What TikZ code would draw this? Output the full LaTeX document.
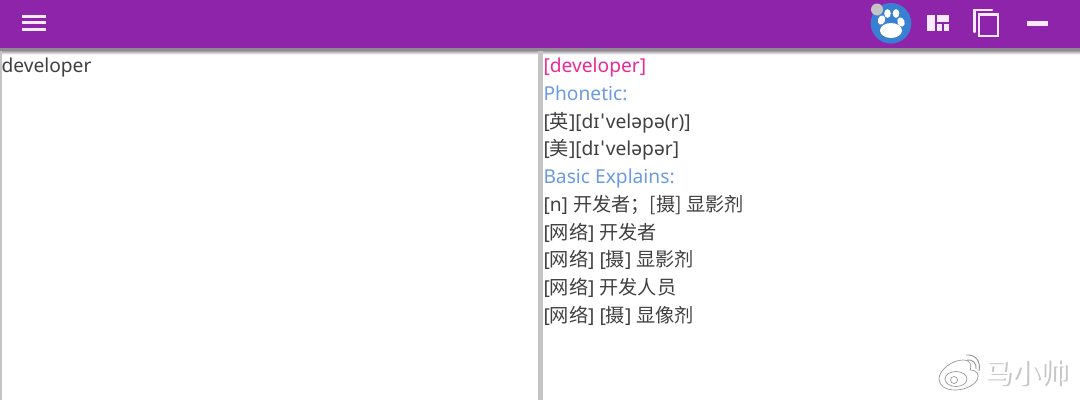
\documentclass[tikz,border=0pt]{standalone}
\usepackage{fontspec}
\setmainfont{Noto Sans}
\newfontfamily\cjkf{Noto Sans CJK SC}
\newcommand{\cj}[1]{{\cjkf #1}}
\newcommand{\strs}{\kern1.2pt ˈ\kern1.2pt}
\definecolor{barpurple}{HTML}{8E24AA}
\definecolor{barshadow}{HTML}{8F8A92}
\definecolor{splitgray}{HTML}{C4C4C4}
\definecolor{inktext}{HTML}{404040}
\definecolor{pinkword}{HTML}{EA2A96}
\definecolor{bluehead}{HTML}{6B9BE0}
\definecolor{badgeblue}{HTML}{3A80D2}
\definecolor{iconpink}{HTML}{FBE9FF}
\tikzset{
  line/.style={anchor=base west,inner sep=0pt,outer sep=0pt,text=inktext,font=\fontsize{14.4}{14.4}\selectfont},
  pinkline/.style={line,text=pinkword},
  blueline/.style={line,text=bluehead},
  iconstroke/.style={draw=iconpink,line width=1.8pt},
  paw/.style={fill=white,draw=none},
  wm/.style={anchor=base west,inner sep=0pt,text=white,font=\cjkf\fontsize{21}{21}\selectfont}
}
\begin{document}
\begin{tikzpicture}[x=0.75pt,y=-0.75pt]
\useasboundingbox (0,0) rectangle (1080,400);
\fill[white] (0,0) rectangle (1080,400);
% top bar
\shade[top color=barshadow,bottom color=white] (0,50) rectangle (1080,54.5);
\fill[barshadow] (0,48) rectangle (1080,50.5);
\fill[barpurple] (0,0) rectangle (1080,48);
% panes
\draw[splitgray,line width=.8pt] (1,50.5) -- (1,400);
\fill[splitgray] (538,50.5) rectangle (542.5,400);
% menu
\foreach \y in {16,22.7,29.3}{\fill[iconpink] (22,\y-1.5) rectangle (45.5,\y+1.5);}
% badge
\fill[badgeblue] (891,23.3) circle (20.3);
\fill[paw] (891,30.5) ellipse (11 and 7.5);
\fill[paw,rotate around={-20:(881.5,20)}] (881.5,20) ellipse (3.6 and 4.8);
\fill[paw] (887.5,13.5) ellipse (3.3 and 4.3);
\fill[paw] (896,13.5) ellipse (3.3 and 4.3);
\fill[paw,rotate around={20:(901,22)}] (901,22) ellipse (3.6 and 4.8);
\fill[splitgray] (877,9.5) circle (6);
% layout icon
\fill[iconpink] (926.5,14.5) rectangle (935,31);
\fill[iconpink] (937,14.5) rectangle (948.5,21.5);
\fill[iconpink] (937,23.5) rectangle (942,31);
\fill[iconpink] (943.5,23.5) rectangle (948.5,31);
% copy icon
\draw[iconstroke,line cap=round] (974.5,32) -- (974.5,10) -- (992,10);
\draw[iconstroke] (979,14.5) rectangle (998,36);
% minimise
\fill[iconpink] (1027,20.5) rectangle (1048,25.5);
% left text
\node[line] (input) at (1.5,72) {developer};
% right text
\node[pinkline] (word) at (543.5,72) {[developer]};
\node[blueline] (phon) at (543.5,100) {Phonetic:};
\node[line] (uk) at (543.5,128) {[\cj{英}][dɪ\strs veləpə(r)]};
\node[line] (us) at (543.5,155.5) {[\cj{美}][dɪ\strs veləpər]};
\node[blueline] (basic) at (543.5,183) {Basic Explains:};
\node[line] (e1) at (543.5,211) {[n] \cj{开发者；[摄] 显影剂}};
\node[line] (e2) at (543.5,239) {[\cj{网络}] \cj{开发者}};
\node[line] (e3) at (543.5,266.5) {[\cj{网络}] [\cj{摄}] \cj{显影剂}};
\node[line] (e4) at (543.5,294) {[\cj{网络}] \cj{开发人员}};
\node[line] (e5) at (543.5,322) {[\cj{网络}] [\cj{摄}] \cj{显像剂}};
% watermark
\node[wm,text=black!22] (wmshadow) at (985.8,384.8) {马小帅};
\node[wm] (wmtext) at (984.5,383.5) {马小帅};
\draw[black!42,line width=.5pt,fill=white] (939,379) .. controls (939,370) and (952,360) .. (963,360) .. controls (971,360) and (972,366) .. (970,370) .. controls (977,370) and (980,375) .. (977,380) .. controls (973,387) and (962,390) .. (955,390) .. controls (946,390) and (939,386) .. (939,379) -- cycle;
\draw[black!42,line width=.5pt] (956,379) ellipse (11 and 7.5);
\draw[black!42,line width=.5pt] (954,380) circle (3.5);
\draw[black!42,line width=.7pt] (967,360) .. controls (973,359) and (977,364) .. (976,369);
\draw[black!42,line width=.7pt] (966,355) .. controls (976,354) and (981,362) .. (979,371);
\end{tikzpicture}
\end{document}
